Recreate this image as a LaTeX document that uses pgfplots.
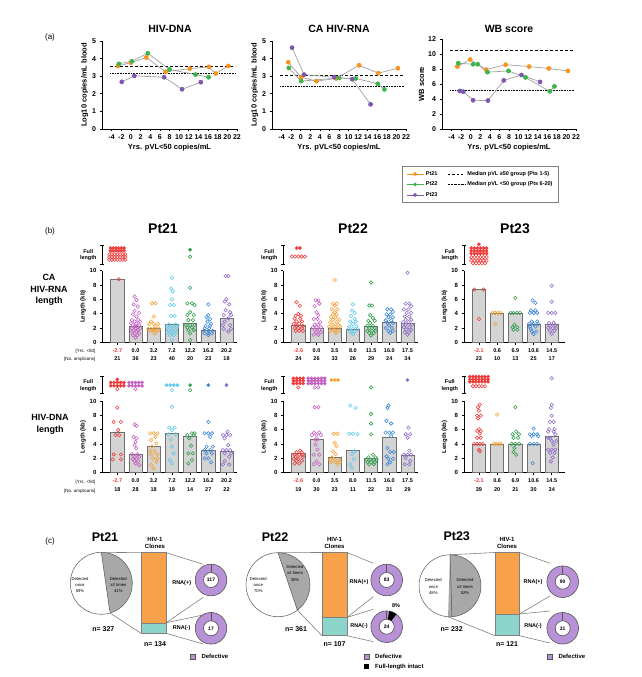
\documentclass[border=0pt]{standalone}
\usepackage{fontspec}
\setmainfont{Liberation Sans}
\usepackage{pgfplots}
\pgfplotsset{compat=1.18}
\newcommand{\fs}[2]{\fontsize{#1}{#2}\selectfont}
\definecolor{cOr}{HTML}{F7931E}
\definecolor{cGr}{HTML}{3DB54A}
\definecolor{cPu}{HTML}{7E57B0}
\definecolor{lnG}{HTML}{A0A0A0}
\definecolor{cRed}{HTML}{EE3B3B}
\definecolor{cMag}{HTML}{C462C4}
\definecolor{cOrg}{HTML}{F5A033}
\definecolor{cLb}{HTML}{5CC8EA}
\definecolor{cDg}{HTML}{2E9E4A}
\definecolor{cBl}{HTML}{3B86D6}
\definecolor{cPur}{HTML}{8E6AC8}
\definecolor{barF}{HTML}{D4D4D4}
\definecolor{barD}{HTML}{707070}
\definecolor{cBarO}{HTML}{F7A14A}
\definecolor{cTeal}{HTML}{8DD5CB}
\definecolor{cDon}{HTML}{B891D6}
\definecolor{donL}{HTML}{555555}
\definecolor{pieG}{HTML}{A8A8A8}
\pgfplotsset{
 every axis/.append style={/pgf/number format/assume math mode=true},
 astyle/.style={scale only axis, height=88pt, xmin=-6, xmax=22, xtick={-4,-2,...,22}, ymin=0,
   axis lines=left, axis line style={-, line width=0.9pt}, tick style={line width=0.7pt, black},
   tick align=outside, major tick length=2.5pt, clip=false,
   xlabel={Yrs. pVL<50 copies/mL}, tick label style={font=\bfseries\fs{7}{8}},
   label style={font=\bfseries\fs{7.5}{9}}, xlabel style={yshift=3pt}, ylabel style={yshift=-3pt}},
 ln/.style={color=lnG, line width=0.7pt, mark=*, mark size=2pt},
 medD/.style={black, line width=0.8pt, dash pattern=on 3pt off 2pt},
 medT/.style={black, line width=0.9pt, dash pattern=on 0.8pt off 0.8pt},
 bstyle/.style={scale only axis, height=71.6pt, ymin=0, ymax=10, ytick={0,2,...,10}, xmin=-0.82,
   xtick={0,...,6}, axis lines=left, axis line style={-, line width=0.9pt},
   tick style={line width=0.7pt, black}, tick align=outside, major tick length=2.5pt, clip=false,
   ylabel={Length (kb)}, yticklabel style={font=\bfseries\fs{6}{7}},
   xticklabel style={font=\bfseries\fs{5.5}{8.5}, align=center},
   ylabel style={font=\bfseries\fs{6}{7}, yshift=-3pt}},
 po/.style={only marks, mark=o, mark size=1.75pt, color=#1, mark options={line width=0.55pt}},
 pf/.style={only marks, mark=*, mark size=1.7pt, color=#1, mark options={line width=0.3pt, fill=#1}},
 bars/.style={ybar, bar width=0.72, fill=barF, draw=barD, line width=0.6pt}
}
\newcommand{\fullbr}[2]{%
 \draw[line width=0.7pt] (axis cs:-0.82,#1) -- (axis cs:-0.82,#2);
 \draw[line width=0.7pt] (axis cs:-0.93,#1) -- (axis cs:-0.71,#1);
 \draw[line width=0.7pt] (axis cs:-0.93,#2) -- (axis cs:-0.71,#2);
 \node[anchor=east, align=center, font=\bfseries\fs{5.5}{6.5}] at (axis cs:-0.95,12.2) {Full\\length};}
\newcommand{\donut}[3]{%
 \fill[cDon, even odd rule] (axis cs:#1,#2) circle[radius=15.8pt] (axis cs:#1,#2) circle[radius=7.5pt];
 \draw[donL, line width=0.6pt] (axis cs:#1,#2) circle[radius=15.8pt];
 \draw[donL, line width=0.6pt] (axis cs:#1,#2) circle[radius=7.5pt];
 \draw[donL, line width=0.5pt] (axis cs:#1,#2) ++(0,7.5pt) -- ++(0,8.3pt);
 \node[font=\bfseries\fs{5}{6}] at (axis cs:#1,#2) {#3};}
% pie cut by a chord from the top: centre x, centre y, radius, end angle of the chord
\newcommand{\pie}[4]{%
 \fill[white] (axis cs:#1,#2) circle[radius=#3];
 \fill[pieG] (axis cs:#1,#2) ++(90:#3) arc[start angle=90, end angle=#4, radius=#3] -- cycle;
 \draw[donL, line width=0.5pt] (axis cs:#1,#2) circle[radius=#3];
 \draw[donL, line width=0.5pt] (axis cs:#1,#2) ++(90:#3) -- ++(0,0) (axis cs:#1,#2) ++(#4:#3) -- ($(axis cs:#1,#2)+(90:#3)$);}
\usetikzlibrary{calc}
\begin{document}
\begin{tikzpicture}
\useasboundingbox (0pt,0pt) rectangle (641pt,677pt);
%================ (a)
\node[font=\fs{8}{9}] at (50pt,639.7pt) {(a)};
\node[font=\bfseries\fs{10.5}{12}] at (170pt,648pt) {HIV-DNA};
\node[font=\bfseries\fs{10.5}{12}] at (339pt,648pt) {CA HIV-RNA};
\node[font=\bfseries\fs{10.5}{12}] at (509pt,648pt) {WB score};
\begin{axis}[astyle, at={(102pt,548pt)}, anchor=south west, width=135pt, ymax=5, ytick={0,...,5}, ylabel={Log10 copies/mL blood}]
\addplot[medD] coordinates {(-4.3,3.57)(21.6,3.57)};
\addplot[medT] coordinates {(-4.3,3.15)(21.6,3.15)};
\addplot[ln, mark options={draw=cOr,fill=cOr}] coordinates {(-2.7,3.58)(0,3.77)(3.2,4.06)(7.2,3.25)(12.2,3.43)(16.2,3.53)(17.6,3.15)(20.2,3.58)};
\addplot[ln, mark options={draw=cGr,fill=cGr}] coordinates {(-2.5,3.70)(0.2,3.85)(3.5,4.30)(8.0,3.38)(13.4,3.09)(16.1,2.94)};
\addplot[ln, mark options={draw=cPu,fill=cPu}] coordinates {(-1.9,2.68)(0.7,3.02)(6.9,2.94)(10.6,2.26)(14.5,2.66)};
\end{axis}
\begin{axis}[astyle, at={(272pt,548pt)}, anchor=south west, width=134pt, ymax=5, ytick={0,...,5}, ylabel={Log10 copies/mL blood}]
\addplot[medD] coordinates {(-4.3,3.02)(21.6,3.02)};
\addplot[medT] coordinates {(-4.3,2.43)(21.6,2.43)};
\addplot[ln, mark options={draw=cOr,fill=cOr}] coordinates {(-2.6,3.79)(0.1,2.94)(3.3,2.72)(7.4,2.87)(12.2,3.62)(16.2,3.17)(20.3,3.45)};
\addplot[ln, mark options={draw=cGr,fill=cGr}] coordinates {(-2.5,3.47)(0.1,2.72)(8.0,2.9)(11.5,2.87)(16.1,2.57)(17.5,2.25)};
\addplot[ln, mark options={draw=cPu,fill=cPu}] coordinates {(-1.8,4.62)(0.7,3.09)(7.0,2.94)(10.75,2.83)(14.6,1.40)};
\end{axis}
\begin{axis}[astyle, at={(442pt,548pt)}, anchor=south west, width=134pt, height=89.7pt, ymax=12, ytick={0,2,...,12}, ylabel={WB score},
  legend columns=2, legend cell align=left,
  legend style={at={(-0.2985,-0.4125)}, anchor=north west, font=\bfseries\fs{5.5}{6.5}, draw=gray, line width=0.5pt, inner xsep=4pt, inner ysep=3pt, row sep=1pt, /tikz/every even column/.append style={column sep=8pt}}]
\addplot[medD, forget plot] coordinates {(-4.3,10.5)(21.6,10.5)};
\addplot[medT, forget plot] coordinates {(-4.3,5.09)(21.6,5.09)};
\addplot[ln, mark options={draw=cOr,fill=cOr}, forget plot] coordinates {(-2.8,8.35)(-0.1,9.29)(3.2,7.95)(7.3,8.6)(12.2,8.35)(16.3,8.1)(20.3,7.77)};
\addplot[ln, mark options={draw=cGr,fill=cGr}, forget plot] coordinates {(-2.6,8.8)(0.5,8.66)(1.45,8.66)(3.5,7.6)(7.9,7.77)(11.45,6.9)(16.5,5.04)(17.5,5.7)};
\addplot[ln, mark options={draw=cPu,fill=cPu}, forget plot] coordinates {(-2.25,5.09)(-1.55,5.0)(0.5,3.84)(3.6,3.8)(6.9,6.5)(10.6,7.23)(14.5,6.3)};
\addlegendimage{cOr, line width=0.6pt, mark=*, mark size=1.6pt}\addlegendentry{Pt21}
\addlegendimage{black, line width=0.7pt, dash pattern=on 2.5pt off 1.8pt}\addlegendentry{Median pVL ≥50 group (Pts 1-5)}
\addlegendimage{cGr, line width=0.6pt, mark=*, mark size=1.6pt}\addlegendentry{Pt22}
\addlegendimage{black, line width=0.8pt, dash pattern=on 0.7pt off 0.7pt}\addlegendentry{Median pVL <50 group (Pts 6-20)}
\addlegendimage{cPu, line width=0.6pt, mark=*, mark size=1.6pt}\addlegendentry{Pt23}
\addlegendimage{empty legend}\addlegendentry{}
\end{axis}
%================ (b)
\node[font=\fs{8}{9}] at (50pt,445.3pt) {(b)};
\node[font=\bfseries\fs{14}{16}] at (163pt,448pt) {Pt21};
\node[font=\bfseries\fs{14}{16}] at (353pt,448pt) {Pt22};
\node[font=\bfseries\fs{14}{16}] at (515pt,448pt) {Pt23};
\node[font=\bfseries\fs{9}{11.7}, align=center] at (49pt,387pt) {CA\\HIV-RNA\\length};
\node[font=\bfseries\fs{9}{12.7}, align=center] at (50pt,252.5pt) {HIV-DNA\\length};
\node[anchor=east, font=\fs{4.5}{5}] at (99pt,326pt) {[Yrs. <50]};
\node[anchor=east, font=\fs{4.5}{5}] at (99pt,318pt) {[No. amplicons]};
\node[anchor=east, font=\fs{4.5}{5}] at (99pt,194.7pt) {[Yrs. <50]};
\node[anchor=east, font=\fs{4.5}{5}] at (99pt,185.3pt) {[No. amplicons]};
% ---- Row 1, Pt21
\begin{axis}[bstyle, at={(102.4pt,334.7pt)}, anchor=south west, width=134.1pt, xmax=6.55,
 xticklabels={{\textcolor{cRed}{-2.7}\\21},{0.0\\36},{3.2\\23},{7.2\\40},{12.2\\20},{16.2\\23},{20.2\\18}}]
\addplot[bars] coordinates {(0,8.8)(1,2.28)(2,1.9)(3,2.5)(4,2.7)(5,1.67)(6,3.35)};
\addplot[po=cRed] coordinates {(0.08,8.8)};
\addplot[pf=cRed] coordinates {(-0.37,13.16)(-0.22,13.16)(-0.07,13.16)(0.07,13.16)(0.22,13.16)(0.37,13.16)(-0.37,12.79)(-0.22,12.79)(-0.07,12.79)(0.07,12.79)(0.22,12.79)(0.37,12.79)};
\addplot[po=cRed] coordinates {(-0.44,12.28)(-0.3,12.28)(-0.15,12.28)(0,12.28)(0.15,12.28)(0.3,12.28)(0.44,12.28)(-0.44,11.9)(-0.3,11.9)(-0.15,11.9)(0,11.9)(0.15,11.9)(0.3,11.9)(0.44,11.9)(-0.44,11.53)(-0.3,11.53)(-0.15,11.53)(0,11.53)(0.15,11.53)(0.3,11.53)(0.44,11.53)};
\addplot[po=cMag] coordinates {(0.95,6.4)(1.05,5.9)(0.9,5.3)(1.12,5.0)(0.95,4.4)(1.2,4.1)(0.85,3.9)(1.05,3.6)(0.8,3.1)(1.15,3.1)(0.95,2.9)(1.25,2.9)(0.75,2.65)(1.05,2.65)(0.85,2.4)(1.2,2.4)(0.95,2.2)(1.1,2.2)(0.8,1.95)(1.0,1.95)(1.25,1.95)(0.9,1.7)(1.15,1.7)(0.8,1.5)(1.05,1.5)(0.95,1.25)(1.2,1.25)(0.85,1.0)(1.1,1.0)(1.0,0.65)};
\addplot[po=cOrg] coordinates {(1.9,5.45)(2.1,5.45)(2.0,3.6)(1.85,2.9)(1.75,2.55)(2.0,2.55)(2.25,2.55)(2.1,2.2)(1.7,1.85)(1.85,1.85)(2.0,1.85)(2.15,1.85)(2.3,1.85)(1.8,1.6)(2.0,1.6)(2.2,1.6)(2.05,1.25)};
\addplot[po=cLb] coordinates {(3.0,9.0)(2.95,7.5)(3.05,7.1)(3.0,6.0)(2.9,5.2)(3.1,5.2)(2.95,3.7)(3.15,3.7)(2.85,2.5)(3.2,2.5)(2.7,2.2)(2.9,2.2)(3.1,2.2)(3.3,2.2)(2.8,1.7)(3.0,1.7)(3.2,1.7)(2.75,1.4)(3.0,1.4)(3.25,1.4)(2.9,1.0)(3.1,1.0)(3.0,0.3)};
\addplot[po=cDg] coordinates {(4.0,7.6)(3.85,5.45)(4.1,5.45)(4.25,5.2)(4.0,4.2)(3.85,3.8)(4.2,3.8)(3.9,3.1)(4.15,3.1)(3.75,2.4)(4.0,2.4)(4.25,2.4)(3.85,2.05)(4.1,2.05)(3.9,1.7)(4.2,1.7)(4.0,1.25)(4.0,0.3)(4.0,11.95)};
\addplot[pf=cDg] coordinates {(4.0,12.93)};
\addplot[po=cBl] coordinates {(5.0,5.3)(5.0,3.8)(4.9,3.5)(5.1,3.25)(4.95,2.9)(5.15,2.6)(4.85,2.3)(5.1,2.3)(4.8,1.95)(5.05,1.95)(4.75,1.6)(5.0,1.6)(5.25,1.6)(4.8,1.25)(5.0,1.25)(5.2,1.25)(5.0,1.0)};
\addplot[po=cPur] coordinates {(5.95,9.25)(6.1,9.25)(6.0,6.0)(5.9,5.7)(6.15,5.3)(5.95,4.5)(6.2,4.2)(5.85,3.8)(6.1,3.35)(5.9,2.9)(6.2,2.4)(5.85,1.85)(6.1,1.5)(6.25,1.85)(5.8,2.4)(6.25,3.8)};
\fullbr{10.93}{13.49}
\end{axis}
% ---- Row 1, Pt22
\begin{axis}[bstyle, at={(283.4pt,334.7pt)}, anchor=south west, width=134.1pt, xmax=6.55,
 xticklabels={{\textcolor{cRed}{-2.6}\\24},{0.0\\26},{3.5\\33},{8.0\\26},{11.5\\29},{16.0\\24},{17.5\\34}}]
\addplot[bars] coordinates {(0,2.36)(1,1.98)(2,1.93)(3,1.84)(4,2.17)(5,2.78)(6,2.64)};
\addplot[pf=cRed] coordinates {(-0.09,13.16)(0.09,13.16)};
\addplot[po=cRed] coordinates {(-0.36,11.98)(-0.18,11.98)(0,11.98)(0.18,11.98)(0.36,11.98)};
\addplot[po=cRed] coordinates {(-0.1,5.6)(0.08,5.1)(0.0,3.96)(-0.15,3.7)(0.15,3.7)(-0.2,3.3)(0.1,3.3)(-0.1,2.9)(0.2,2.9)(-0.25,2.6)(0.05,2.6)(-0.1,2.3)(0.25,2.3)(-0.2,2.0)(0.0,2.0)(0.2,2.0)(-0.15,1.6)(0.05,1.6)(0.25,1.6)};
\addplot[po=cMag] coordinates {(0.95,5.85)(1.1,5.85)(1.15,5.4)(0.9,5.05)(1.0,4.2)(1.1,3.8)(0.85,3.25)(1.05,3.25)(1.2,2.8)(0.9,2.45)(1.1,2.45)(0.8,2.1)(1.0,2.1)(1.25,2.1)(0.9,1.75)(1.15,1.75)(1.0,1.4)(1.25,1.4)(0.85,1.05)(1.1,1.05)};
\addplot[po=cOrg] coordinates {(2.0,8.7)(1.9,5.4)(2.1,5.4)(2.0,5.15)(1.85,4.6)(2.15,4.6)(2.0,4.2)(1.9,3.9)(2.1,3.9)(1.8,3.5)(2.05,3.5)(2.25,3.15)(1.9,3.15)(2.1,2.8)(1.75,2.8)(1.9,2.45)(2.2,2.45)(1.7,2.2)(2.0,2.2)(2.3,2.2)(1.85,1.9)(2.1,1.9)(1.75,1.6)(2.0,1.6)(2.25,1.6)(2.05,1.3)};
\addplot[po=cLb] coordinates {(3.0,5.3)(2.95,4.45)(3.1,4.1)(2.9,3.7)(3.1,3.3)(2.85,2.9)(3.15,2.9)(3.0,2.55)(2.8,2.2)(3.2,2.2)(2.75,1.85)(3.0,1.85)(3.25,1.85)(2.85,1.5)(3.1,1.5)(3.0,1.15)};
\addplot[po=cDg] coordinates {(4.0,8.35)(3.9,5.15)(4.05,5.15)(3.95,3.8)(4.1,3.4)(3.85,3.0)(4.2,3.0)(3.95,2.7)(4.1,2.3)(3.8,2.3)(3.9,2.0)(4.2,2.0)(3.8,1.6)(4.05,1.6)(4.25,1.6)(3.9,1.3)(4.15,1.3)(4.0,0.95)};
\addplot[po=cBl] coordinates {(4.9,4.6)(5.1,4.6)(5.2,4.25)(4.85,3.9)(5.05,3.9)(4.95,3.5)(5.2,3.5)(4.8,3.05)(5.1,3.05)(4.9,2.7)(5.2,2.7)(5.0,2.35)(4.8,2.0)(5.15,2.0)(4.95,1.6)(5.2,1.6)(5.05,1.3)};
\addplot[po=cPur] coordinates {(6.0,9.7)(5.9,5.4)(6.1,5.4)(6.2,5.05)(5.8,4.6)(6.05,4.6)(5.95,4.1)(6.2,4.1)(5.85,3.6)(6.1,3.6)(5.9,3.15)(6.2,3.15)(5.75,2.8)(6.05,2.8)(5.9,2.45)(6.25,2.45)(5.8,2.1)(6.1,2.1)(5.95,1.75)(6.2,1.75)(5.85,1.4)(6.1,1.4)(6.0,1.05)};
\fullbr{10.93}{13.49}
\end{axis}
% ---- Row 1, Pt23
\begin{axis}[bstyle, at={(464pt,334.7pt)}, anchor=south west, width=100.5pt, xmax=4.7, xtick={0,...,4},
 xticklabels={{\textcolor{cRed}{-2.1}\\23},{0.6\\10},{6.9\\13},{10.6\\25},{14.5\\17}}]
\addplot[bars] coordinates {(0,7.36)(1,4.1)(2,4.1)(3,2.55)(4,2.45)};
\addplot[pf=cRed] coordinates {(0,13.68)(-0.42,13.16)(-0.25,13.16)(-0.08,13.16)(0.08,13.16)(0.25,13.16)(0.42,13.16)(-0.42,12.78)(-0.25,12.78)(-0.08,12.78)(0.08,12.78)(0.25,12.78)(0.42,12.78)(-0.42,12.4)(-0.25,12.4)(-0.08,12.4)(0.08,12.4)(0.25,12.4)(0.42,12.4)};
\addplot[po=cRed] coordinates {(-0.42,11.89)(-0.25,11.89)(-0.08,11.89)(0.08,11.89)(0.25,11.89)(0.42,11.89)(-0.42,11.42)(-0.25,11.42)(-0.08,11.42)(0.08,11.42)(0.25,11.42)(0.42,11.42)(-0.33,11.04)(-0.165,11.04)(0,11.04)(0.165,11.04)(0.33,11.04)};
\addplot[po=cRed] coordinates {(-0.25,7.36)(0.25,7.36)(0,3.25)};
\addplot[po=cOrg] coordinates {(0.75,4.1)(0.9,4.1)(1.05,4.1)(1.2,4.1)(0.9,2.6)};
\addplot[po=cDg] coordinates {(2.0,6.2)(1.75,4.1)(1.9,4.1)(2.1,4.1)(2.25,4.1)(1.95,2.45)(1.85,2.1)(2.1,2.1)(1.9,1.75)(2.1,1.75)};
\addplot[po=cBl] coordinates {(2.95,5.85)(3.1,5.5)(2.85,4.45)(3.0,4.1)(2.8,4.1)(3.2,4.1)(3.1,4.45)(2.9,2.9)(2.75,2.55)(3.0,2.55)(3.25,2.55)(3.1,2.2)(2.85,1.85)(2.9,1.5)(3.15,1.5)(3.0,1.15)(3.2,2.9)(2.8,2.2)};
\addplot[po=cPur] coordinates {(4.0,7.9)(4.0,5.65)(3.8,4.1)(4.0,4.1)(4.2,4.1)(3.85,2.7)(4.1,2.7)(3.9,2.35)(4.2,2.35)(3.8,2.0)(4.05,2.0)(3.9,1.6)(4.15,1.6)(4.0,1.2)(4.25,2.0)};
\fullbr{10.93}{13.49}
\end{axis}
% ---- Row 2, Pt21
\begin{axis}[bstyle, at={(102.4pt,204.3pt)}, anchor=south west, width=134.1pt, xmax=6.55,
 xticklabels={{\textcolor{cRed}{-2.7}\\18},{0.0\\28},{3.2\\18},{7.2\\19},{12.2\\14},{16.2\\27},{20.2\\22}}]
\addplot[bars] coordinates {(0,5.58)(1,2.6)(2,3.72)(3,5.49)(4,5.02)(5,3.16)(6,2.93)};
\addplot[pf=cRed] coordinates {(0,13.02)(-0.36,12.6)(-0.18,12.6)(0,12.6)(0.18,12.6)(0.36,12.6)(-0.36,12.14)(-0.18,12.14)(0,12.14)(0.18,12.14)(0.36,12.14)};
\addplot[po=cRed] coordinates {(0,11.67)(0.0,9.07)(-0.2,7.1)(0.2,7.1)(0.05,5.95)(-0.1,5.25)(0.1,5.25)(-0.2,2.55)(0.2,2.55)(-0.25,1.85)(0.2,1.85)};
\addplot[pf=cMag] coordinates {(0.64,12.6)(0.82,12.6)(1,12.6)(1.18,12.6)(1.36,12.6)(0.64,12.14)(0.82,12.14)(1,12.14)(1.18,12.14)(1.36,12.14)};
\addplot[po=cMag] coordinates {(1,11.67)(0.95,6.75)(1.05,6.55)(0.9,5.0)(1.05,4.8)(1.0,4.3)(0.95,3.85)(1.05,3.4)(0.8,2.6)(1.1,2.6)(0.95,2.23)(1.2,2.23)(0.85,1.9)(1.05,1.9)(0.95,1.63)(1.15,1.63)(1.0,1.3)(1.2,1.07)};
\addplot[po=cOrg] coordinates {(1.8,5.5)(2.0,5.5)(2.2,5.5)(2.1,5.0)(1.85,4.55)(2.15,4.1)(1.9,3.63)(2.05,3.0)(1.85,2.55)(2.2,2.55)(1.95,2.0)(2.15,1.53)(1.85,1.07)(2.0,0.6)(2.2,2.0)(1.8,3.0)};
\addplot[pf=cLb] coordinates {(2.7,12.23)(2.9,12.23)(3.1,12.23)(3.3,12.23)};
\addplot[po=cLb] coordinates {(3.0,11.53)(3.0,9.2)(2.85,6.3)(3.15,6.3)(3.0,5.95)(2.8,5.35)(3.2,5.35)(2.95,4.65)(3.0,3.63)(3.1,2.7)(2.9,1.77)(3.0,1.3)};
\addplot[pf=cDg] coordinates {(4,12.23)};
\addplot[po=cDg] coordinates {(4,11.53)(4.1,5.5)(3.85,5.25)(4.2,5.25)(3.95,4.8)(4.05,3.77)(3.9,2.7)(4.1,1.77)(3.9,1.3)(4.25,5.5)(4.15,2.7)};
\addplot[pf=cBl] coordinates {(5,12.23)};
\addplot[po=cBl] coordinates {(5.0,7.1)(4.8,5.5)(5.0,5.5)(5.2,5.5)(5.1,5.0)(4.9,3.63)(4.8,3.16)(5.1,3.16)(4.9,2.7)(5.2,2.7)(5.0,2.0)(5.15,1.44)(4.8,2.0)(5.25,3.63)};
\addplot[pf=cPur] coordinates {(6,12.23)};
\addplot[po=cPur] coordinates {(6.05,5.72)(5.8,5.25)(6.0,5.25)(6.2,5.25)(5.9,4.8)(6.1,3.86)(5.8,3.16)(6.0,3.16)(6.2,3.16)(5.9,2.7)(6.15,2.23)(5.9,1.63)(5.8,1.16)(6.15,1.16)(6.25,2.7)};
\fullbr{11.07}{13.4}
\end{axis}
% ---- Row 2, Pt22
\begin{axis}[bstyle, at={(283.4pt,204.3pt)}, anchor=south west, width=134.1pt, xmax=6.55,
 xticklabels={{\textcolor{cRed}{-2.6}\\19},{0.0\\30},{3.5\\23},{8.0\\11},{11.5\\22},{16.0\\31},{17.5\\29}}]
\addplot[bars] coordinates {(0,2.65)(1,4.64)(2,2.13)(3,3.08)(4,2.04)(5,4.98)(6,2.42)};
\addplot[pf=cRed] coordinates {(-0.27,13.18)(-0.09,13.18)(0.09,13.18)(0.27,13.18)(-0.27,12.84)(-0.09,12.84)(0.09,12.84)(0.27,12.84)(-0.27,12.46)(-0.09,12.46)(0.09,12.46)(0.27,12.46)};
\addplot[po=cRed] coordinates {(0,11.9)(0.1,3.08)(-0.1,2.84)(0.2,2.84)(-0.2,2.5)(0.05,2.5)(0.25,2.2)(-0.15,2.2)(0.0,1.94)(-0.25,1.94)(0.2,1.66)(-0.1,1.66)(0.05,1.28)(-0.2,1.28)(0.25,2.5)};
\addplot[pf=cMag] coordinates {(0.55,13.18)(0.73,13.18)(0.91,13.18)(1.09,13.18)(1.27,13.18)(1.45,13.18)(0.55,12.84)(0.73,12.84)(0.91,12.84)(1.09,12.84)(1.27,12.84)(1.45,12.84)(0.55,12.46)(0.73,12.46)(0.91,12.46)(1.09,12.46)(1.27,12.46)(1.45,12.46)};
\addplot[po=cMag] coordinates {(0.9,11.9)(1.1,11.9)(0.9,9.15)(1.1,9.15)(0.85,5.6)(1.15,5.6)(0.75,5.26)(1.0,5.26)(1.25,5.26)(1.05,4.64)(0.95,3.93)(1.05,3.22)(0.85,2.51)(1.15,2.51)(1.0,1.56)(0.85,1.18)(1.15,1.18)(0.95,4.64)};
\addplot[pf=cOrg] coordinates {(1.82,12.94)(2.0,12.94)(2.18,12.94)};
\addplot[po=cOrg] coordinates {(1.95,5.45)(2.15,5.45)(2.0,4.17)(2.1,3.7)(1.9,2.99)(2.05,2.6)(1.85,2.13)(1.75,1.8)(2.0,1.8)(2.25,1.8)(1.8,1.47)(2.05,1.47)(2.3,1.47)(2.15,1.18)};
\addplot[po=cLb] coordinates {(2.85,9.38)(3.15,9.05)(2.8,5.45)(3.0,5.45)(3.25,5.36)(3.1,2.99)(2.95,2.6)(3.05,1.9)(2.85,1.18)(2.95,0.7)};
\addplot[po=cDg] coordinates {(4,11.9)(4.0,8.2)(4.0,6.87)(4.0,5.36)(4.1,2.51)(3.85,2.13)(3.75,1.8)(3.95,1.8)(4.15,1.8)(4.3,1.8)(3.8,1.47)(4.0,1.47)(4.2,1.47)(3.9,1.18)(4.15,1.18)(4.25,2.13)};
\addplot[po=cBl] coordinates {(4.95,9.38)(4.9,9.05)(4.85,7.25)(5.1,6.87)(4.8,5.6)(5.0,5.6)(5.2,5.6)(5.1,5.12)(4.9,3.46)(5.05,2.89)(4.85,2.27)(4.95,1.94)(5.2,1.94)(5.05,1.47)(4.9,1.18)(5.25,2.89)};
\addplot[pf=cPur] coordinates {(6,12.94)};
\addplot[po=cPur] coordinates {(6.05,6.3)(5.9,5.36)(6.15,5.36)(6.0,4.88)(6.1,3.08)(5.8,2.51)(6.0,2.51)(6.2,2.51)(5.9,2.04)(6.15,1.66)(5.85,1.18)(6.1,1.18)};
\fullbr{11.07}{13.4}
\end{axis}
% ---- Row 2, Pt23
\begin{axis}[bstyle, at={(464pt,204.3pt)}, anchor=south west, width=100.5pt, xmax=4.7, xtick={0,...,4},
 xticklabels={{\textcolor{cRed}{-2.1}\\39},{0.6\\20},{6.9\\21},{10.6\\30},{14.5\\34}}]
\addplot[bars] coordinates {(0,4.03)(1,4.03)(2,4.03)(3,4.03)(4,5.12)};
\addplot[pf=cRed] coordinates {(-0.5,13.41)(-0.33,13.41)(-0.17,13.41)(0,13.41)(0.17,13.41)(0.33,13.41)(0.5,13.41)(-0.5,13.03)(-0.33,13.03)(-0.17,13.03)(0,13.03)(0.17,13.03)(0.33,13.03)(0.5,13.03)(-0.5,12.7)(-0.33,12.7)(-0.17,12.7)(0,12.7)(0.17,12.7)(0.33,12.7)(0.5,12.7)};
\addplot[po=cRed] coordinates {(-0.33,12.08)(-0.17,12.08)(0,12.08)(0.17,12.08)(0.33,12.08)(0.05,9.5)(-0.05,9.15)(0.0,8.67)(-0.1,7.96)(0.1,7.96)(-0.05,7.58)(0.0,6.07)(-0.1,5.83)(0.1,5.83)(0.05,5.45)(-0.1,4.88)(0.1,4.88)(-0.25,4.03)(-0.1,4.03)(0.05,4.03)(0.2,4.03)(0.0,3.22)(0.05,2.99)};
\addplot[po=cOrg] coordinates {(1.0,8.1)(0.8,4.03)(0.93,4.03)(1.07,4.03)(1.2,4.03)};
\addplot[po=cDg] coordinates {(2.0,9.15)(2.05,5.73)(1.85,5.36)(2.2,5.36)(1.9,4.88)(2.15,4.88)(1.8,4.03)(2.0,4.03)(2.2,4.03)(1.95,3.46)(1.9,2.89)(2.05,2.51)};
\addplot[po=cBl] coordinates {(3.0,6.16)(2.8,5.36)(3.0,5.36)(3.2,5.36)(2.9,5.12)(3.25,5.12)(2.8,4.03)(3.0,4.03)(3.2,4.03)(2.95,1.33)};
\addplot[po=cPur] coordinates {(4,13.18)(4.0,9.5)(3.95,9.05)(4.0,7.96)(3.9,7.1)(4.1,7.1)(3.85,6.07)(4.15,6.07)(3.8,5.73)(4.1,5.73)(4.2,5.36)(3.9,4.88)(4.0,4.41)(4.1,3.93)(3.8,3.22)(4.0,3.22)(4.2,3.22)(3.9,2.75)(4.15,2.75)(4.05,2.13)(3.95,1.56)(3.8,4.88)(4.25,4.41)};
\fullbr{11.07}{13.4}
\end{axis}
%================ (c) stacked bars
\begin{axis}[scale only axis, hide axis, at={(141pt,43.7pt)}, anchor=south west, width=25pt, height=80.6pt, xmin=-0.5, xmax=0.5, ymin=0, ymax=100, ybar stacked, bar width=1, clip=false]
\addplot[fill=cTeal, draw=gray, line width=0.6pt] coordinates {(0,13)};
\addplot[fill=cBarO, draw=gray, line width=0.6pt] coordinates {(0,87)};
\node[font=\bfseries\fs{6.5}{7}] at (axis cs:0,6.5) {13\%};
\node[font=\bfseries\fs{6.5}{7}] at (axis cs:0,56.5) {87\%};
\end{axis}
\begin{axis}[scale only axis, hide axis, at={(322pt,41.3pt)}, anchor=south west, width=25pt, height=83.2pt, xmin=-0.5, xmax=0.5, ymin=0, ymax=100, ybar stacked, bar width=1, clip=false]
\addplot[fill=cTeal, draw=gray, line width=0.6pt] coordinates {(0,22)};
\addplot[fill=cBarO, draw=gray, line width=0.6pt] coordinates {(0,78)};
\node[font=\bfseries\fs{6.5}{7}] at (axis cs:0,11) {22\%};
\node[font=\bfseries\fs{6.5}{7}] at (axis cs:0,61) {78\%};
\end{axis}
\begin{axis}[scale only axis, hide axis, at={(495pt,41.3pt)}, anchor=south west, width=24.3pt, height=83.2pt, xmin=-0.5, xmax=0.5, ymin=0, ymax=100, ybar stacked, bar width=1, clip=false]
\addplot[fill=cTeal, draw=gray, line width=0.6pt] coordinates {(0,26)};
\addplot[fill=cBarO, draw=gray, line width=0.6pt] coordinates {(0,74)};
\node[font=\bfseries\fs{6}{7}] at (axis cs:0,13) {26\%};
\node[font=\bfseries\fs{6}{7}] at (axis cs:0,63) {74\%};
\end{axis}
%================ (c) pies and donuts in a page-sized axis (1 unit = 1pt)
\begin{axis}[scale only axis, hide axis, at={(0pt,0pt)}, anchor=south west, width=641pt, height=677pt, xmin=0, xmax=641, ymin=0, ymax=677, clip=false]
% Pt21 pie: segment of 41% cut by a chord from the top (central angle 163.7 deg)
\fill[pieG] (axis cs:101.3,93.7) ++(90:31pt) arc[start angle=90, end angle=-73.7, radius=31pt] -- cycle;
\draw[donL, line width=0.5pt] (axis cs:101.3,93.7) circle[radius=31pt];
\draw[donL, line width=0.5pt] (axis cs:101.3,93.7) ++(90:31pt) -- ++(-81.85:59.5pt);
\draw[gray, line width=0.6pt] (axis cs:101.3,124.7) -- (axis cs:141,124.3);
\draw[gray, line width=0.6pt] (axis cs:101.3,93.7) ++(-73.7:31pt) -- (axis cs:141,43.7);
% Pt22 pie: 30% segment (central angle 142.7 deg)
\fill[pieG] (axis cs:278,92.3) ++(90:32pt) arc[start angle=90, end angle=-52.7, radius=32pt] -- cycle;
\draw[donL, line width=0.5pt] (axis cs:278,92.3) circle[radius=32pt];
\draw[donL, line width=0.5pt] (axis cs:278,92.3) ++(90:32pt) -- ++(-71.35:60.8pt);
\draw[gray, line width=0.6pt] (axis cs:278,124.3) -- (axis cs:322,124.5);
\draw[gray, line width=0.6pt] (axis cs:278,92.3) ++(-52.7:32pt) -- (axis cs:322,41.3);
% Pt23 pie: 52% segment (central angle 183.6 deg)
\fill[pieG] (axis cs:450,91.2) ++(90:31pt) arc[start angle=90, end angle=-93.6, radius=31pt] -- cycle;
\draw[donL, line width=0.5pt] (axis cs:450,91.2) circle[radius=31pt];
\draw[donL, line width=0.5pt] (axis cs:450,91.2) ++(90:31pt) -- ++(-88.2:62pt);
\draw[gray, line width=0.6pt] (axis cs:450,122.2) -- (axis cs:495,124.5);
\draw[gray, line width=0.6pt] (axis cs:450,91.2) ++(-93.6:31pt) -- (axis cs:495,41.3);
% connectors bar -> donuts
\draw[gray, line width=0.6pt] (axis cs:166,124.3) -- (axis cs:203.3,112.7);
\draw[gray, line width=0.6pt] (axis cs:166,54.2) -- (axis cs:203.3,79.7);
\draw[gray, line width=0.6pt] (axis cs:166,54.2) -- (axis cs:203.3,62);
\draw[gray, line width=0.6pt] (axis cs:166,43.7) -- (axis cs:203.3,33);
\draw[gray, line width=0.6pt] (axis cs:347,124.5) -- (axis cs:373.3,113.7);
\draw[gray, line width=0.6pt] (axis cs:347,59.6) -- (axis cs:373.3,80.3);
\draw[gray, line width=0.6pt] (axis cs:347,59.6) -- (axis cs:373.3,67.7);
\draw[gray, line width=0.6pt] (axis cs:347,41.3) -- (axis cs:373.3,35.3);
\draw[gray, line width=0.6pt] (axis cs:519.3,124.5) -- (axis cs:550,113.7);
\draw[gray, line width=0.6pt] (axis cs:519.3,63) -- (axis cs:550,81);
\draw[gray, line width=0.6pt] (axis cs:519.3,63) -- (axis cs:550,66);
\draw[gray, line width=0.6pt] (axis cs:519.3,41.3) -- (axis cs:550,34);
% donuts
\donut{211}{97}{117}
\donut{211}{48.7}{17}
\donut{386.7}{97}{83}
\donut{386.7}{50.3}{24}
\fill[black] (axis cs:386.7,50.3) ++(52:7.5pt) -- ++(52:8.3pt) arc[start angle=52, end angle=81, radius=15.8pt] -- ++(261:8.3pt) arc[start angle=81, end angle=52, radius=7.5pt] -- cycle;
\donut{562.7}{95.3}{90}
\donut{562.7}{48.7}{31}
% legend squares
\fill[cDon] (axis cs:190.5,17.8) rectangle (axis cs:195.5,22.8);
\draw[donL, line width=0.4pt] (axis cs:190.5,17.8) rectangle (axis cs:195.5,22.8);
\fill[cDon] (axis cs:364.2,17.8) rectangle (axis cs:369.2,22.8);
\draw[donL, line width=0.4pt] (axis cs:364.2,17.8) rectangle (axis cs:369.2,22.8);
\fill[black] (axis cs:364.2,8) rectangle (axis cs:369.2,13);
\fill[cDon] (axis cs:547.5,17.8) rectangle (axis cs:552.5,22.8);
\draw[donL, line width=0.4pt] (axis cs:547.5,17.8) rectangle (axis cs:552.5,22.8);
\end{axis}
% (c) texts
\node[font=\fs{8}{9}] at (50pt,135.3pt) {(c)};
\node[font=\bfseries\fs{12.5}{14}] at (105pt,140pt) {Pt21};
\node[font=\bfseries\fs{12.5}{14}] at (275pt,139.7pt) {Pt22};
\node[font=\bfseries\fs{12.5}{14}] at (456.7pt,140.3pt) {Pt23};
\node[font=\bfseries\fs{6}{7}, align=center] at (155pt,134pt) {HIV-1\\Clones};
\node[font=\bfseries\fs{6}{7}, align=center] at (334.5pt,134pt) {HIV-1\\Clones};
\node[font=\bfseries\fs{6}{7}, align=center] at (507pt,134pt) {HIV-1\\Clones};
\node[font=\fs{4.2}{6.2}, align=center] at (80pt,92pt) {Detected\\once\\59\%};
\node[font=\fs{4.2}{6.2}, align=center] at (118.3pt,92pt) {Detected\\≥2 times\\41\%};
\node[font=\fs{4.2}{6.2}, align=center] at (258.3pt,92pt) {Detected\\once\\70\%};
\node[font=\fs{4.2}{6.2}, align=center] at (295pt,103.7pt) {Detected\\≥2 times\\30\%};
\node[font=\fs{4.2}{6.2}, align=center] at (433.3pt,90.3pt) {Detected\\once\\48\%};
\node[font=\fs{4.2}{6.2}, align=center] at (465pt,90.3pt) {Detected\\≥2 times\\52\%};
\node[font=\bfseries\fs{7}{8}] at (103.3pt,47.7pt) {n= 327};
\node[font=\bfseries\fs{7}{8}] at (155pt,33pt) {n= 134};
\node[font=\bfseries\fs{7}{8}] at (296pt,47.7pt) {n= 361};
\node[font=\bfseries\fs{7}{8}] at (334.5pt,33pt) {n= 107};
\node[font=\bfseries\fs{7}{8}] at (451.7pt,47.7pt) {n= 232};
\node[font=\bfseries\fs{7}{8}] at (507pt,33pt) {n= 121};
\node[font=\bfseries\fs{5.5}{6}] at (181.7pt,93.7pt) {RNA(+)};
\node[font=\bfseries\fs{5.5}{6}] at (181.7pt,48.7pt) {RNA(-)};
\node[font=\bfseries\fs{5.5}{6}] at (359pt,95.3pt) {RNA(+)};
\node[font=\bfseries\fs{5.5}{6}] at (359pt,51pt) {RNA(-)};
\node[font=\bfseries\fs{5.5}{6}] at (533pt,95.3pt) {RNA(+)};
\node[font=\bfseries\fs{5.5}{6}] at (533pt,51pt) {RNA(-)};
\node[font=\bfseries\fs{5.5}{6}] at (396pt,71pt) {8\%};
\node[anchor=west, font=\bfseries\fs{6}{7}] at (198pt,20.3pt) {Defective};
\node[anchor=west, font=\bfseries\fs{6}{7}] at (371.7pt,20.3pt) {Defective};
\node[anchor=west, font=\bfseries\fs{6}{7}] at (371.7pt,10.5pt) {Full-length intact};
\node[anchor=west, font=\bfseries\fs{6}{7}] at (555pt,20.3pt) {Defective};
\end{tikzpicture}
\end{document}
